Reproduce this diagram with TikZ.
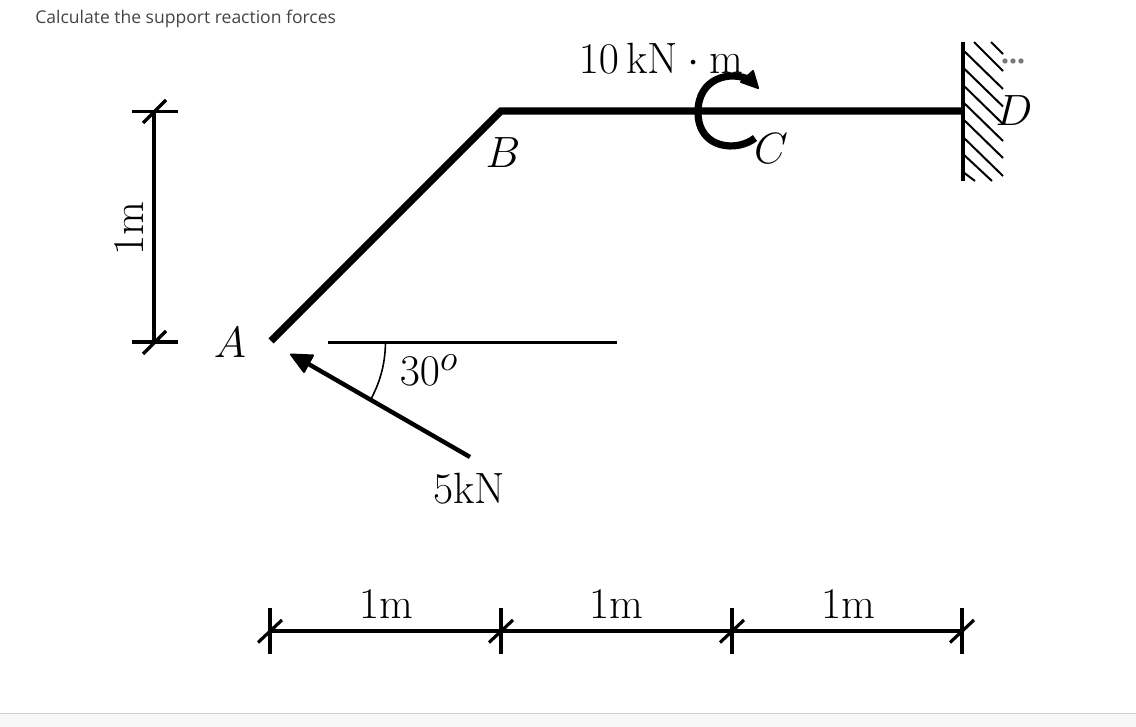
\documentclass[tikz,border=0pt]{standalone}
\usepackage{fontspec}
\newfontfamily\uifont{Open Sans}
\definecolor{uitext}{HTML}{444444}
\definecolor{dotgray}{HTML}{777777}
\definecolor{bandfill}{HTML}{F7F7F7}
\definecolor{bandline}{HTML}{CFCFCF}
\tikzset{
  member/.style={line width=5.4pt,line cap=butt,black},
  dimline/.style={line width=2.4pt,black},
  tick/.style={line width=2.4pt,black},
  hatch/.style={line width=1.5pt,black},
  lab/.style={inner sep=0pt,anchor=base,font=\Huge,scale=1.32},
  head/.style={fill=black,draw=black,line width=1.5pt,line join=round},
}
\begin{document}
\begin{tikzpicture}[x=0.75pt,y=-0.75pt]
\useasboundingbox (0,0) rectangle (1136,727);
% footer band
\fill[bandfill] (0,713) rectangle (1136,727);
\draw[bandline,line width=0.75pt] (0,713.5) -- (1136,713.5);
% title
\node[anchor=base west,inner sep=0pt,text=uitext,font=\uifont\fontsize{13.15}{15}\selectfont] (title) at (35,24) {Calculate the support reaction forces};
% frame points
\coordinate (A) at (271,341);
\coordinate (B) at (501,111);
\coordinate (D) at (963,111);
\draw[member,line join=miter] (A) -- (B) -- (D);
% wall
\coordinate (W1) at (963,42);
\coordinate (W2) at (963,181);
\draw[line width=3.4pt] (W1) -- (W2);
\foreach \xa/\ya/\xb/\yb in {991/42/1003/54,974/42/1003/71,963/50/1003/89,963/67.5/1003/106.5,963/85/1003/124,963/102/1003/141,963/119/1003/158,963/137/1003/176,963/154/992/181,963/172/975/181}
  \draw[hatch] (\xa,\ya) -- (\xb,\yb);
\foreach \x in {1005,1013,1021} \fill[dotgray] (\x,61) circle[radius=2.6];
% moment
\coordinate (Ms) at (755,138);
\coordinate (Mt) at (750,80);
\draw[line width=5.4pt] (Ms) .. controls (738,152) and (698,150) .. (698,112) .. controls (698,78) and (730,70) .. (Mt);
\path[head] (758,88) -- (753,71) -- (741,82) -- cycle;
% left dimension
\coordinate (V1) at (154,111.5);
\coordinate (V2) at (154,342);
\draw[dimline] (V1) -- (V2);
\draw[tick] (132,111.5) -- (178,111.5);
\draw[tick] (143,123) -- (166,100);
\draw[tick] (132,342) -- (178,342);
\draw[tick] (143,354) -- (166,331);
% bottom dimension
\coordinate (H1) at (270,631);
\coordinate (H4) at (962,631);
\draw[dimline] (H1) -- (H4);
\foreach \x in {270,501,732,962}{
  \draw[tick] (\x,608) -- (\x,654);
  \draw[tick] (\x-12,642.5) -- (\x+12,620);
}
% force
\coordinate (Ftail) at (470,457);
\coordinate (Ftip) at (305,362);
\draw[line width=3.3pt] (Ftail) -- (Ftip);
\path[head] (291,354.5) -- (313,355.5) -- (304,372) -- cycle;
% angle
\coordinate (R1) at (328,342.5);
\coordinate (R2) at (617,342.5);
\draw[line width=2.2pt] (R1) -- (R2);
\draw[line width=1.2pt] (385.5,343) .. controls (385,365) and (380,382) .. (371,399);
% labels
\node[lab] (la) at (230,358) {$A$};
\node[lab] (lb) at (503,168) {$B$};
\node[lab] (lc) at (771,164) {$C$};
\node[lab] (ld) at (1014,126) {$D$};
\node[lab] (ang) at (429,386) {$30^o$};
\node[lab] (force) at (469,503) {5kN};
\node[lab] (moment) at (661,74) {$10\,\mathrm{kN}\cdot\mathrm{m}$};
\node[lab] (d1) at (386,618) {1m};
\node[lab] (d2) at (616,618) {1m};
\node[lab] (d3) at (848,618) {1m};
\node[lab,rotate=90] (d4) at (143,229) {1m};
\end{tikzpicture}
\end{document}
